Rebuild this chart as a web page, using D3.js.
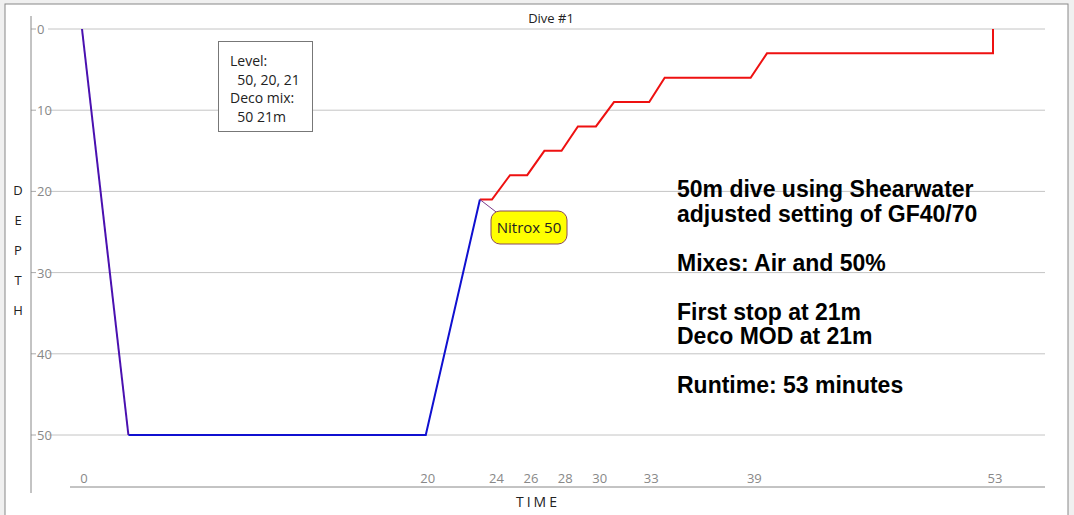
<!DOCTYPE html><html><head><meta charset="utf-8">
<script src="https://cdn.jsdelivr.net/npm/d3@7"></script>
<style>body{margin:0;background:#f0f0f0}text{font-family:"Segoe UI","Open Sans",sans-serif}text.note{font-family:"Liberation Sans",Arial,sans-serif;font-weight:bold}</style></head><body>
<svg id="c" width="1074" height="515"></svg>
<script>
const xTicks=[0,20,24,26,28,30,33,39,53];
const yTicks=[0,10,20,30,40,50];
const descent=[[0,0],[2.7,50],[20,50],[23.15,21]];
const deco=[[23.15,21],[23.85,21],[24.9,18],[25.9,18],[26.9,15],[27.9,15],[28.85,12],[29.9,12],[30.95,9],[33,9],[33.9,6],[38.9,6],[39.85,3],[53,3],[53,0]];
const notes=["50m dive using Shearwater","adjusted setting of GF40/70","","Mixes: Air and 50%","","First stop at 21m","Deco MOD at 21m","","Runtime: 53 minutes"];
const levelBox=["Level:","  50, 20, 21","Deco mix:","  50 21m"];

const svg=d3.select("#c");
svg.append("rect").attr("x",5).attr("y",4).attr("width",1063).attr("height",515).attr("fill","#fff").attr("stroke","#888");
const x=d3.scaleLinear().domain([0,53]).range([82,993]);
const y=d3.scaleLinear().domain([0,50]).range([29,435]);
yTicks.forEach(t=>{
  svg.append("line").attr("x1",48).attr("x2",1045).attr("y1",y(t)).attr("y2",y(t)).attr("stroke","#c4c4c4");
  svg.append("line").attr("x1",31).attr("x2",36).attr("y1",y(t)).attr("y2",y(t)).attr("stroke","#aaa");
  svg.append("text").attr("x",37).attr("y",y(t)+5).attr("font-size",13).attr("fill","#888").text(t);
});
svg.append("line").attr("x1",31).attr("x2",31).attr("y1",16).attr("y2",493).attr("stroke","#888");
svg.append("line").attr("x1",70).attr("x2",1045).attr("y1",487).attr("y2",487).attr("stroke","#888");
xTicks.forEach(t=>svg.append("text").attr("x",x(t)+2).attr("y",483).attr("text-anchor","middle").attr("font-size",13).attr("fill","#888").text(t));
svg.append("text").attr("x",538).attr("y",507).attr("text-anchor","middle").attr("font-size",14).attr("letter-spacing",3).attr("fill","#222").text("TIME");
"DEPTH".split("").forEach((c,i)=>svg.append("text").attr("x",18).attr("y",195+i*30).attr("text-anchor","middle").attr("font-size",13).attr("fill","#222").text(c));
svg.append("text").attr("x",551).attr("y",23).attr("text-anchor","middle").attr("font-size",13).attr("fill","#222").text("Dive #1");
const line=d3.line().x(d=>x(d[0])).y(d=>y(d[1]));
svg.append("path").datum(deco).attr("d",line).attr("fill","none").attr("stroke","#ee1111").attr("stroke-width",2);
svg.append("path").datum(descent.slice(1)).attr("d",line).attr("fill","none").attr("stroke","#1010d0").attr("stroke-width",2);
svg.append("path").datum(descent.slice(0,2)).attr("d",line).attr("fill","none").attr("stroke","#4a10b0").attr("stroke-width",2);
svg.append("line").attr("x1",x(23.15)).attr("y1",y(21)).attr("x2",500).attr("y2",215).attr("stroke","#7a3a8a");
svg.append("rect").attr("x",491).attr("y",211).attr("width",76).attr("height",33).attr("rx",9).attr("fill","#ffff00").attr("stroke","#8a4a5a");
svg.append("text").attr("x",529).attr("y",233).attr("text-anchor","middle").attr("font-size",15).attr("fill","#222").text("Nitrox 50");
svg.append("rect").attr("x",218.5).attr("y",41.5).attr("width",94).attr("height",90).attr("fill","#fff").attr("stroke","#777");
levelBox.forEach((s,i)=>svg.append("text").attr("x",230).attr("y",66+i*18.5).attr("font-size",14).attr("fill","#222").attr("xml:space","preserve").text(s));
notes.forEach((s,i)=>svg.append("text").attr("class","note").attr("x",677).attr("y",197+i*24.5).attr("font-size",23).attr("fill","#000").text(s));
</script></body></html>
